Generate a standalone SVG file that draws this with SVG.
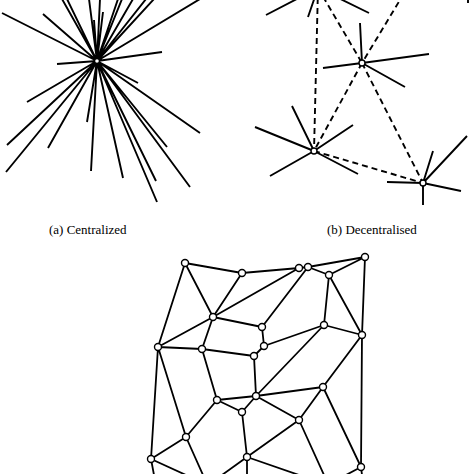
<svg xmlns="http://www.w3.org/2000/svg" width="474" height="474" viewBox="0 0 474 474">
<style>
.sp{stroke:#000;stroke-width:1.9;fill:none;stroke-linecap:butt}
.ds{stroke:#000;stroke-width:1.9;fill:none;stroke-dasharray:6 4}
.ed{stroke:#000;stroke-width:1.8;fill:none}
.nd{fill:#fff;stroke:#000;stroke-width:1.4}
.lb{font-family:"Liberation Serif",serif;font-size:13px;fill:#000}
</style>
<rect width="474" height="474" fill="#fff"/>
<g id="connectors">
<path class="sp" d="M97 61L2 13M97 61L43 14M97 61L62 -1M97 61L67 -1M97 61L89 -1M97 61L94 20M97 61L100 -1M97 61L103 12M97 61L118 -1M97 61L122 -1M97 61L133 -1M97 61L146 -1M97 61L154 -1M97 61L200 -1M97 61L162 52M97 61L57 64M97 61L138 83M97 61L200 133M97 61L167 147M97 61L190 187M97 61L157 202M97 61L156 181M97 61L123 178M97 61L91 171M97 61L87 122M97 61L48 148M97 61L6 172M97 61L7 145M97 61L27 102"/>
<path class="sp" d="M318 -12L266 15M318 -12L308 17M318 -12L369 13M468 -10L468 3M362 63L360 23M362 63L323 68M362 63L429 54M362 63L405 87M314 151L255 127M314 151L292 106M314 151L353 125M314 151L270 176M314 151L358 174M423 183L387 182M423 183L467 136M423 183L433 151M423 183L461 191M423 183L423 205"/>
<path class="ds" d="M318 -12L314 151M318 -12L362 63M409 -15L362 63M362 63L314 151M362 63L423 183M314 151L423 183"/>
<path class="ed" d="M185 263L242 273M185 263L213 317M185 263L158 347M242 273L299 268M242 273L213 317M299 268L213 317M299 268L308 267M308 267L329 275M308 267L262 327M308 267L365 257M329 275L365 257M329 275L324 325M329 275L362 335M213 317L262 327M213 317L158 347M213 317L202 349M262 327L264 346M264 346L254 356M264 346L324 325M324 325L362 335M324 325L256 396M202 349L254 356M158 347L202 349M254 356L256 396M202 349L217 400M158 347L186 437M158 347L151 459M217 400L256 396M217 400L242 412M217 400L186 437M256 396L242 412M256 396L323 387M256 396L299 420M242 412L247 457M299 420L323 387M299 420L247 457M323 387L361 467M362 335L323 387M365 257L362 335M362 335L361 467M186 437L151 459M186 437L203 475M151 459L154 475M151 459L186 475M247 457L222 475M247 457L247 475M247 457L299 475M299 420L324 475M361 467L346 475M361 467L362 475"/>
</g>
<g id="hubs">
<circle class="nd" cx="97" cy="61" r="2.5"/>
<circle class="nd" cx="362" cy="63" r="3"/>
<circle class="nd" cx="314" cy="151" r="3"/>
<circle class="nd" cx="423" cy="183" r="3"/>
</g>
<g id="mesh-nodes">
<circle id="n1" class="nd" cx="185" cy="263" r="3.5"/>
<circle id="n2" class="nd" cx="242" cy="273" r="3.5"/>
<circle id="n3" class="nd" cx="299" cy="268" r="3.5"/>
<circle id="n4" class="nd" cx="308" cy="267" r="3.5"/>
<circle id="n5" class="nd" cx="329" cy="275" r="3.5"/>
<circle id="n6" class="nd" cx="213" cy="317" r="3.5"/>
<circle id="n7" class="nd" cx="262" cy="327" r="3.5"/>
<circle id="n8" class="nd" cx="324" cy="325" r="3.5"/>
<circle id="n9" class="nd" cx="158" cy="347" r="3.5"/>
<circle id="n10" class="nd" cx="202" cy="349" r="3.5"/>
<circle id="n11" class="nd" cx="264" cy="346" r="3.5"/>
<circle id="n12" class="nd" cx="254" cy="356" r="3.5"/>
<circle id="n13" class="nd" cx="323" cy="387" r="3.5"/>
<circle id="n14" class="nd" cx="217" cy="400" r="3.5"/>
<circle id="n15" class="nd" cx="256" cy="396" r="3.5"/>
<circle id="n16" class="nd" cx="242" cy="412" r="3.5"/>
<circle id="n17" class="nd" cx="299" cy="420" r="3.5"/>
<circle id="n18" class="nd" cx="186" cy="437" r="3.5"/>
<circle id="n19" class="nd" cx="151" cy="459" r="3.5"/>
<circle id="n20" class="nd" cx="247" cy="457" r="3.5"/>
<circle id="n21" class="nd" cx="365" cy="257" r="3.5"/>
<circle id="n22" class="nd" cx="362" cy="335" r="3.5"/>
<circle id="n23" class="nd" cx="361" cy="467" r="3.5"/>
</g>
<g id="labels">
<text class="lb" x="49" y="234">(a) Centralized</text>
<text class="lb" x="327" y="234">(b) Decentralised</text>
</g>
</svg>
